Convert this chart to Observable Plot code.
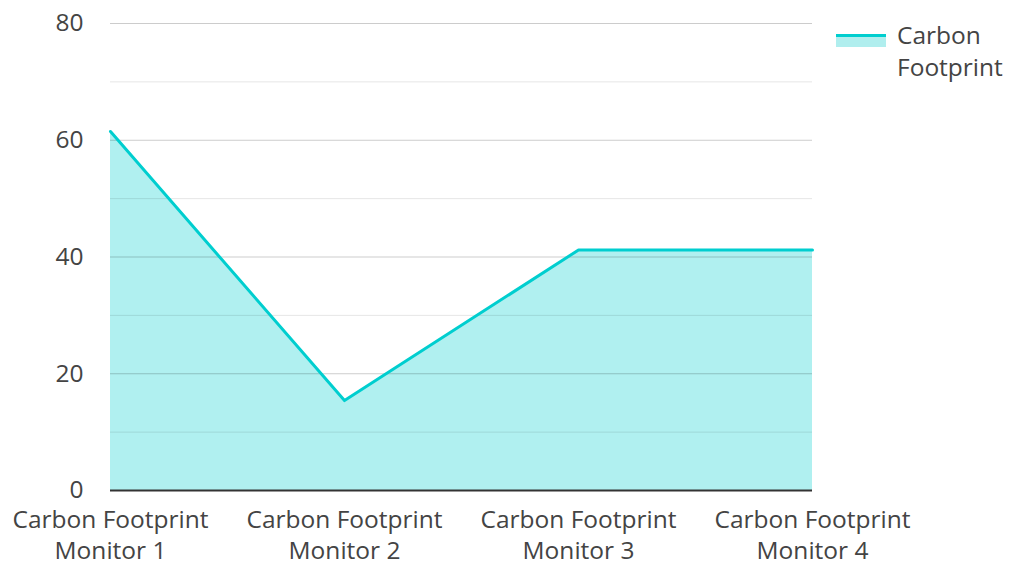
<!DOCTYPE html>
<html>
<head>
<meta charset="utf-8">
<script src="https://cdn.jsdelivr.net/npm/d3@7"></script>
<script src="https://cdn.jsdelivr.net/npm/@observablehq/plot@0.6"></script>
<style>
  html, body { margin: 0; padding: 0; background: #fff; }
  #wrap { position: relative; width: 1009px; height: 562px; font-family: "Open Sans", sans-serif; }
  #legend { position: absolute; left: 836px; top: 19px; display: flex; align-items: flex-start; color: #444; font-size: 24.5px; line-height: 32px; }
  #legend .sw { position: relative; width: 50px; height: 32px; margin-right: 11px; }
  #legend .sw .f { position: absolute; left: 0; top: 17px; width: 50px; height: 11px; background: #b0eeee; }
  #legend .sw .l { position: absolute; left: 0; top: 15px; width: 50px; height: 3px; background: #00cecf; }
</style>
</head>
<body>
<div id="wrap"><div id="chart"></div>
<div id="legend"><div class="sw"><div class="f"></div><div class="l"></div></div><div>Carbon<br>Footprint</div></div>
</div>
<script>
const categories = ["Carbon Footprint\nMonitor 1", "Carbon Footprint\nMonitor 2", "Carbon Footprint\nMonitor 3", "Carbon Footprint\nMonitor 4"];
const values = [61.5, 15.4, 41.2, 41.2];
const majorTicks = [0, 20, 40, 60, 80];
const minorTicks = [10, 30, 50, 70];
const seriesName = "Carbon Footprint";

const data = categories.map((c, i) => ({cat: c, v: values[i]}));

const chart = Plot.plot({
  width: 1009,
  height: 562,
  marginLeft: 110,
  marginRight: 197,
  marginTop: 23,
  marginBottom: 72,
  style: {fontFamily: "'Open Sans', sans-serif", fontSize: "24.5px", color: "#444", background: "#fff", overflow: "visible"},
  x: {type: "point", domain: categories, padding: 0, label: null},
  y: {domain: [0, 80], label: null},
  marks: [
    Plot.areaY(data, {x: "cat", y: "v", fill: "#00cecf", fillOpacity: 0.31}),
    Plot.ruleY(minorTicks, {stroke: "#000", strokeOpacity: 0.1, strokeWidth: 1}),
    Plot.ruleY(majorTicks.filter(d => d > 0), {stroke: "#000", strokeOpacity: 0.2, strokeWidth: 1}),
    Plot.lineY(data, {x: "cat", y: "v", stroke: "#00cecf", strokeWidth: 3}),
    Plot.ruleY([0], {stroke: "#333", strokeWidth: 2}),
    Plot.axisY({ticks: majorTicks, tickSize: 0, tickPadding: 27, fontSize: 24.5, fill: "#444", label: null}),
    Plot.axisX({tickSize: 0, tickPadding: 15, fontSize: 24.5, fill: "#444", lineHeight: 1.27, label: null})
  ]
});
document.getElementById("chart").appendChild(chart);
</script>
</body>
</html>
